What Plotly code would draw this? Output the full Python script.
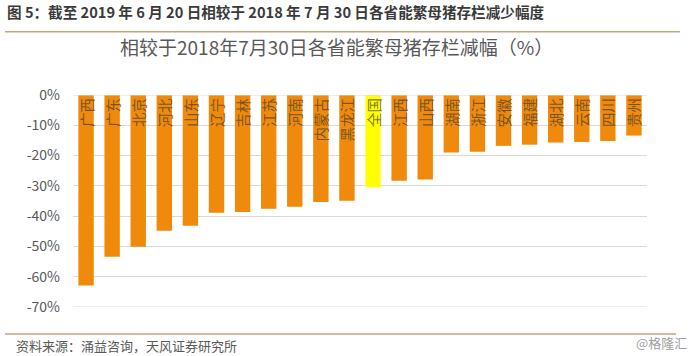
import plotly.graph_objects as go

provinces = ["广西", "广东", "北京", "河北", "山东", "辽宁", "吉林", "江苏", "河南", "内蒙古", "黑龙江",
             "全国", "江西", "山西", "湖南", "浙江", "安徽", "福建", "湖北", "云南", "四川", "贵州"]
changes = [-62.9, -53.4, -50.1, -44.8, -43.2, -38.9, -38.6, -37.6, -36.9, -35.3, -34.9,
           -30.5, -28.3, -27.9, -19.0, -18.7, -16.8, -16.4, -15.7, -15.5, -15.2, -13.4]
tick_vals = [0, -10, -20, -30, -40, -50, -60, -70]
tick_text = ["0%", "-10%", "-20%", "-30%", "-40%", "-50%", "-60%", "-70%"]

W, H = 695, 356
L, R, T, B = 73, 48, 94.5, 49
PW, PH = W - L - R, H - T - B

def px_x(x):
    return (x - L) / PW

def px_y(y):
    return (H - B - y) / PH

colors = ["#FFFF00" if p == "全国" else "#EF8A0C" for p in provinces]
FONT = "Noto Sans CJK SC, Noto Sans, sans-serif"

fig = go.Figure()
fig.add_trace(go.Bar(
    x=provinces, y=changes,
    marker=dict(color=colors, line=dict(width=0)),
    text=provinces,
    textposition="inside",
    insidetextanchor="start",
    textangle=-90,
    constraintext="none",
    textfont=dict(family=FONT, size=14.5, color="rgba(70,60,40,0.7)"),
    hoverinfo="skip",
))

fig.update_layout(
    width=W, height=H,
    margin=dict(l=L, r=R, t=T, b=B),
    paper_bgcolor="white", plot_bgcolor="white",
    bargap=0.41,
    showlegend=False,
    font=dict(family=FONT, color="#595959"),
    xaxis=dict(showticklabels=False, showgrid=False, zeroline=False, showline=False,
               ticks=""),
    yaxis=dict(range=[-70, 0], tickvals=tick_vals, ticktext=tick_text,
               showgrid=True, gridcolor="#D9D9D9", gridwidth=1,
               zeroline=False, showline=False, ticks="",
               tickfont=dict(family=FONT, size=14, color="#595959"),
               ticklabelstandoff=12, fixedrange=True),
    shapes=[
        dict(type="line", xref="paper", yref="paper",
             x0=px_x(5), x1=px_x(680), y0=px_y(31), y1=px_y(31),
             line=dict(color="#C9A27A", width=1.5)),
        dict(type="line", xref="paper", yref="paper",
             x0=px_x(5), x1=px_x(676), y0=px_y(334), y1=px_y(334),
             line=dict(color="#C9A27A", width=1.5)),
        dict(type="line", xref="paper", yref="y",
             x0=0, x1=1, y0=-70, y1=-70,
             line=dict(color="#D9D9D9", width=1)),
        dict(type="line", xref="paper", yref="y",
             x0=0, x1=1, y0=0, y1=0,
             line=dict(color="#D9D9D9", width=1)),
    ],
    annotations=[
        dict(text="<b>图 5：截至 2019 年 6 月 20 日相较于 2018 年 7 月 30 日各省能繁母猪存栏减少幅度</b>",
             xref="paper", yref="paper", x=px_x(5), y=px_y(11),
             xanchor="left", yanchor="middle", showarrow=False,
             font=dict(family=FONT, size=14.6, color="#3A3A3A")),
        dict(text="相较于2018年7月30日各省能繁母猪存栏减幅（%）",
             xref="paper", yref="paper", x=px_x(336), y=px_y(46),
             xanchor="center", yanchor="middle", showarrow=False,
             font=dict(family=FONT, size=19, color="#595959")),
        dict(text="资料来源：涌益咨询，天风证券研究所",
             xref="paper", yref="paper", x=px_x(14), y=px_y(346),
             xanchor="left", yanchor="middle", showarrow=False,
             font=dict(family=FONT, size=13, color="#595959")),
        dict(text="@格隆汇",
             xref="paper", yref="paper", x=px_x(689), y=px_y(343),
             xanchor="right", yanchor="middle", showarrow=False,
             font=dict(family=FONT, size=13, color="#A0A0A0")),
    ],
)

fig.write_html("out.html", config={"displayModeBar": False, "staticPlot": True},
               post_script="document.body.style.margin='0';document.body.style.overflow='hidden';")
